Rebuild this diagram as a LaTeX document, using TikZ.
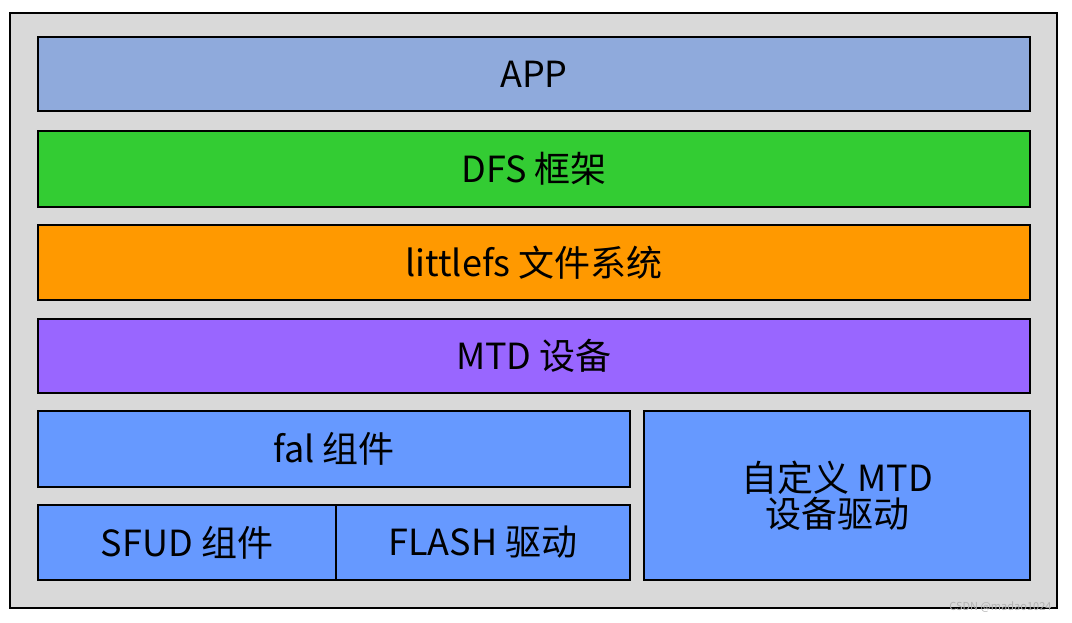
\documentclass[tikz,border=0pt]{standalone}
\usepackage{fontspec}
\setmainfont{Noto Sans CJK SC}
\definecolor{appblue}{HTML}{8FAADC}
\definecolor{dfsgreen}{HTML}{33CC33}
\definecolor{lfsorange}{HTML}{FF9900}
\definecolor{mtdpurple}{HTML}{9966FF}
\definecolor{drvblue}{HTML}{6699FF}
\definecolor{bggray}{HTML}{D9D9D9}
\tikzset{
  layer/.style = {draw, line width=2pt, inner sep=0pt, font=\fontsize{36}{40}\selectfont},
}
\begin{document}
\begin{tikzpicture}[x=1pt, y=-1pt]
    \useasboundingbox (0,0) rectangle (1072,623);
    \draw[line width=2pt, fill=bggray] (10,13) rectangle (1057,608);

    \node[layer, fill=appblue, minimum width=992pt, minimum height=74pt] (app) at (534,74) {APP};
    \node[layer, fill=dfsgreen, minimum width=992pt, minimum height=76pt] (dfs) at (534,169) {DFS 框架};
    \node[layer, fill=lfsorange, minimum width=992pt, minimum height=75pt] (lfs) at (534,262.5) {littlefs 文件系统};
    \node[layer, fill=mtdpurple, minimum width=992pt, minimum height=74pt] (mtd) at (534,356) {MTD 设备};
    \node[layer, fill=drvblue, minimum width=592pt, minimum height=76pt] (fal) at (334,449) {fal 组件};
    \node[layer, fill=drvblue, minimum width=298pt, minimum height=75pt] (sfud) at (187,542.5) {SFUD 组件};
    \node[layer, fill=drvblue, minimum width=294pt, minimum height=75pt] (flash) at (483,542.5) {FLASH 驱动};
    \node[layer, fill=drvblue, minimum width=386pt, minimum height=169pt, align=center] (custom) at (837,495.5) {自定义 MTD\\[-4pt]设备驱动};

    \node[text=gray!60, font=\fontsize{11}{12}\selectfont, anchor=east] (mark) at (1055,607) {CSDN @madao1024};
\end{tikzpicture}
\end{document}
